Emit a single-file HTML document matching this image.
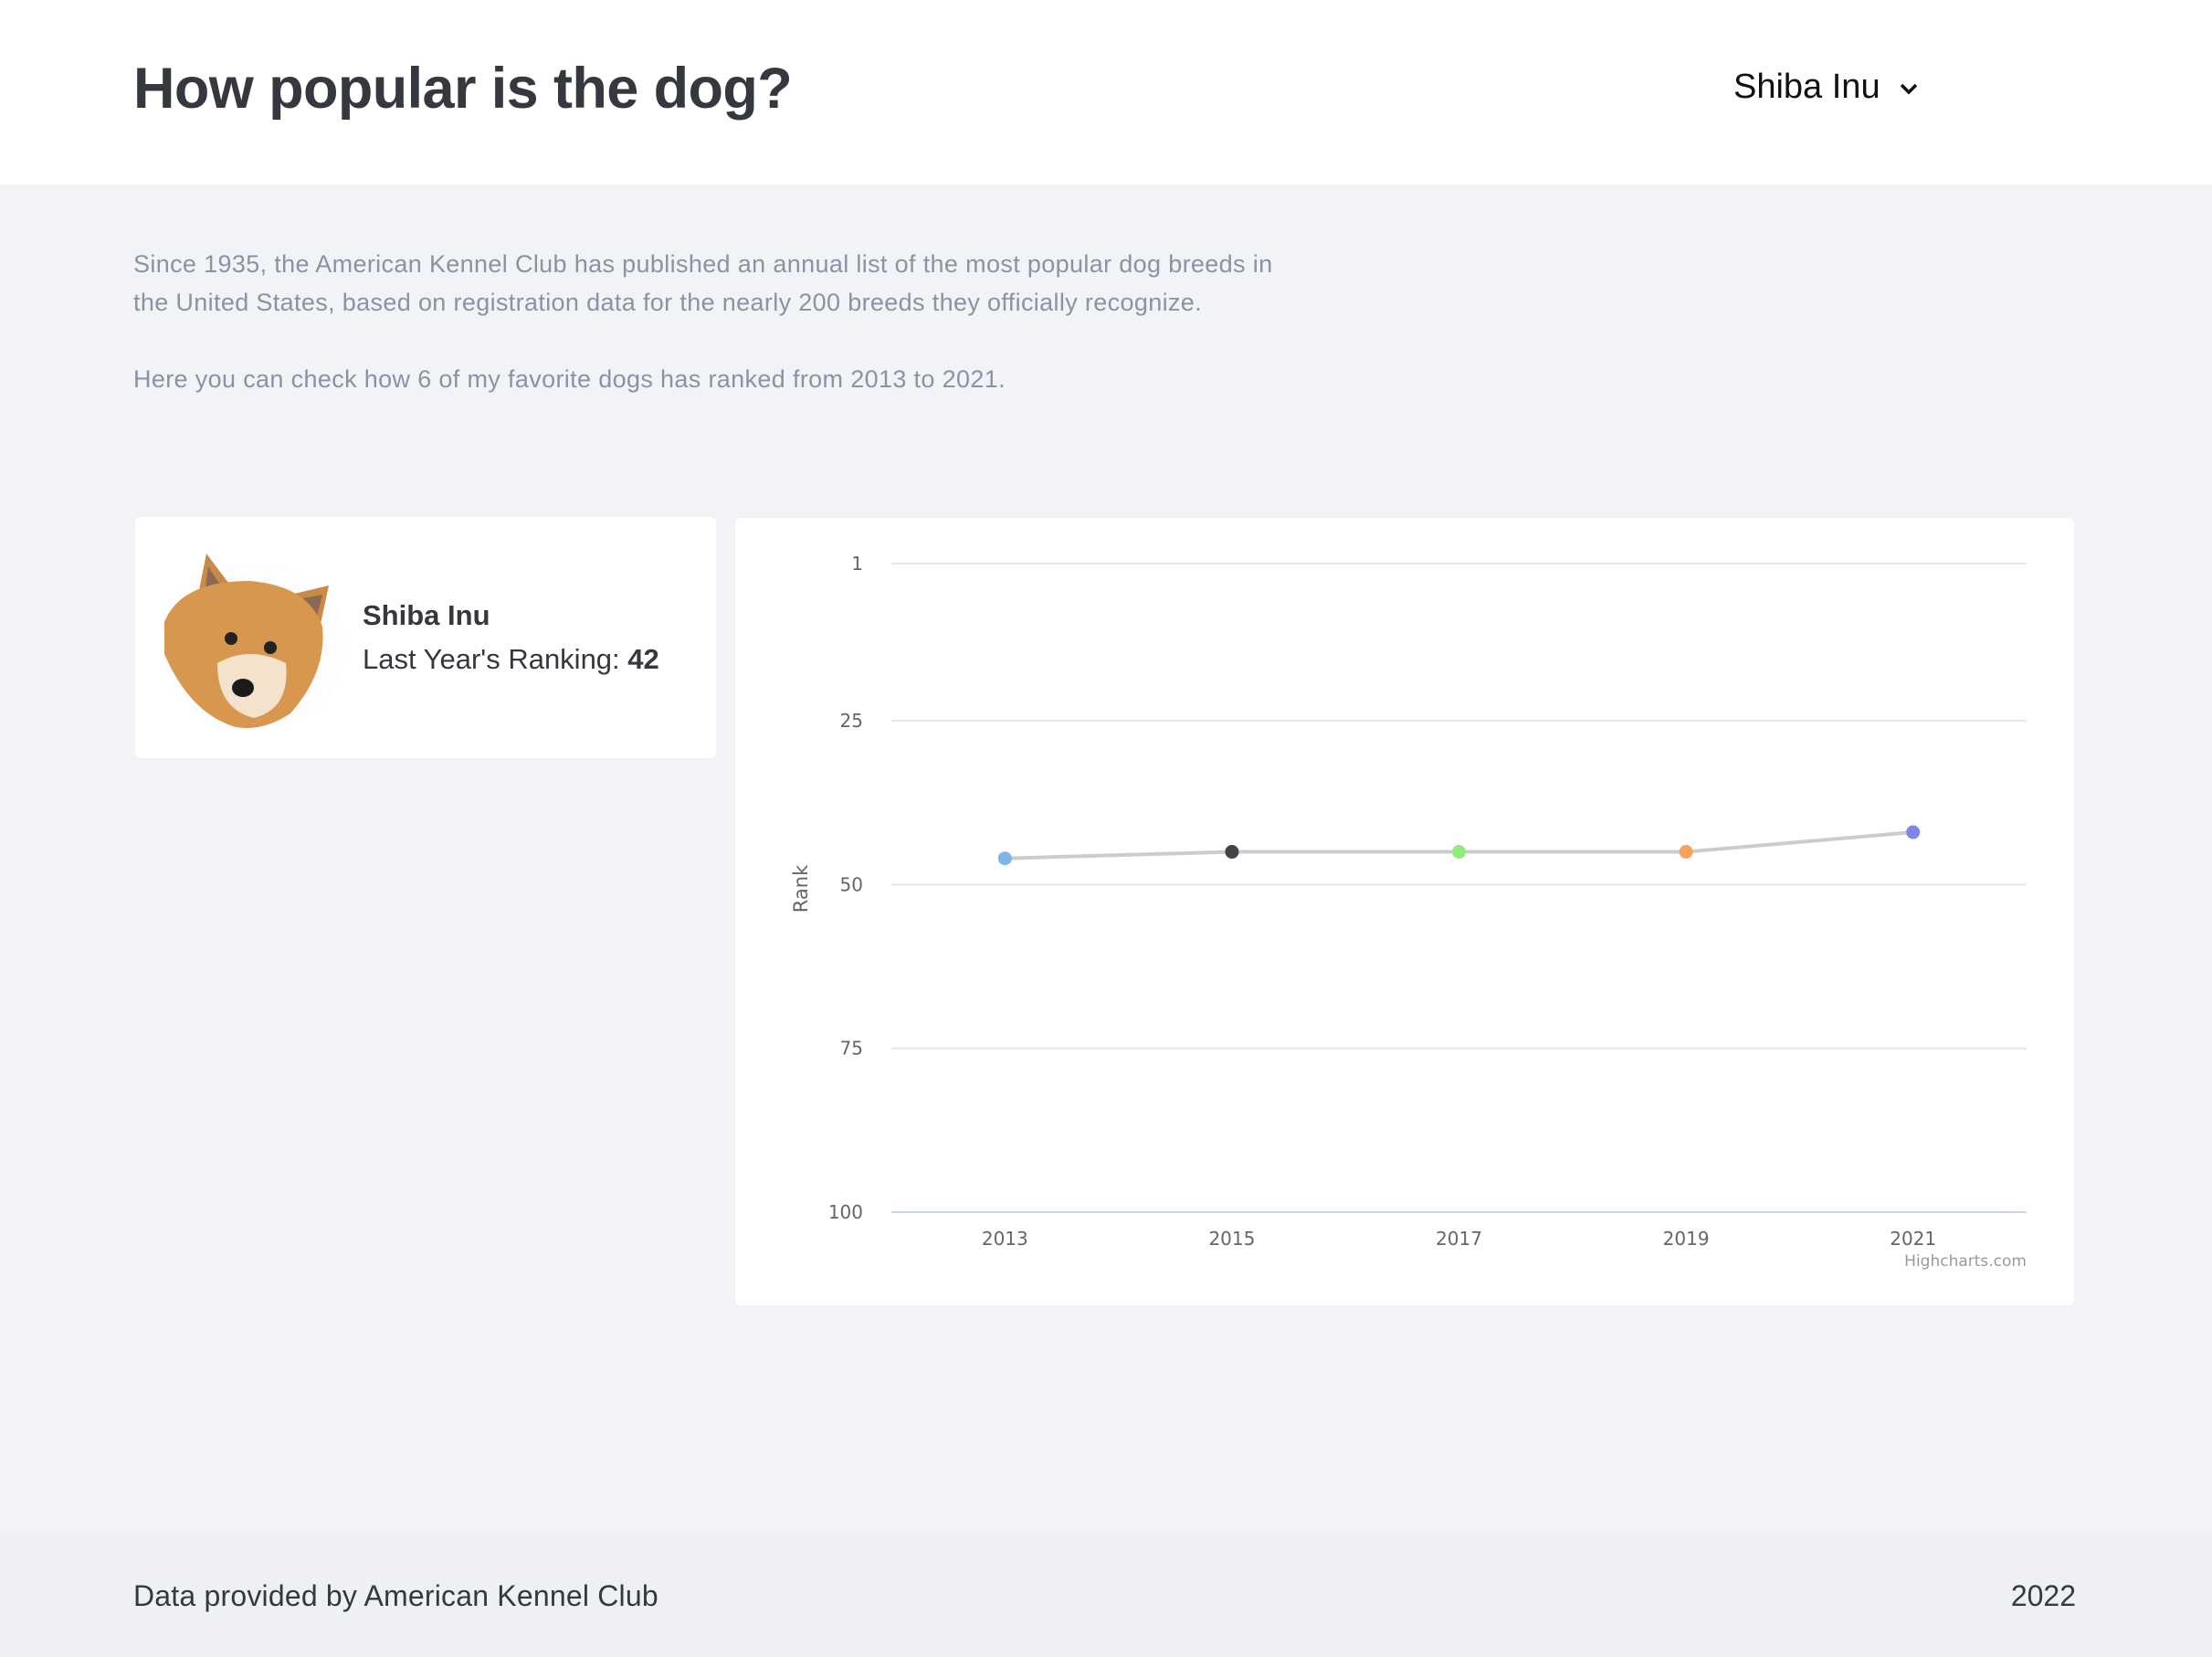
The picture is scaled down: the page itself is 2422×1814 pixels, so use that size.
<!DOCTYPE html>
<html><head><meta charset="utf-8"><style>
*{margin:0;padding:0;box-sizing:border-box}
body{width:2422px;height:1814px;background:#f2f3f6;font-family:"Liberation Sans",Arial,sans-serif;position:relative;overflow:hidden}
.abs{position:absolute}
</style></head><body>
<div class="abs" style="left:0;top:0;width:2422px;height:202px;background:#fff">
  <div class="abs" style="left:146px;top:61px;font-size:63px;font-weight:bold;color:#363840;white-space:nowrap;letter-spacing:-0.6px">How popular is the dog?</div>
  <div class="abs" style="left:1898px;top:74px;font-size:38px;color:#111;white-space:nowrap">Shiba Inu
    <svg width="22" height="16" style="margin-left:10px;vertical-align:middle"><path d="M3 4 L11 12 L19 4" stroke="#111" stroke-width="3.5" fill="none"/></svg></div>
</div>
<div class="abs" style="left:146px;top:268px;font-size:27px;line-height:42px;color:#8a93a3;white-space:nowrap;letter-spacing:0.35px">
Since 1935, the American Kennel Club has published an annual list of the most popular dog breeds in<br>the United States, based on registration data for the nearly 200 breeds they officially recognize.<br><br>Here you can check how 6 of my favorite dogs has ranked from 2013 to 2021.</div>

<div class="abs" style="left:148px;top:566px;width:636px;height:264px;background:#fff;border-radius:6px">
  <svg class="abs" style="left:30px;top:40px" width="210" height="195" viewBox="0 0 210 195">
    <ellipse cx="100" cy="102" rx="100" ry="92" fill="#fdfdfd"/>
    <path d="M35 65 L48 0 L78 40 Z" fill="#c98a45"/><path d="M45 55 L50 14 L68 42 Z" fill="#8a6a55"/>
    <path d="M140 45 L182 35 L168 100 Z" fill="#c98a45"/><path d="M148 50 L175 45 L165 85 Z" fill="#8a6a55"/>
    <path d="M2 75 Q20 30 95 30 Q160 35 175 80 Q180 130 140 175 Q110 195 80 190 Q30 175 2 110 Z" fill="#d8974f"/>
    <path d="M60 120 Q95 100 135 120 Q140 170 100 180 Q60 170 60 120Z" fill="#f3e3cc"/>
    <circle cx="75" cy="93" r="7" fill="#222"/><circle cx="118" cy="103" r="7" fill="#222"/>
    <ellipse cx="88" cy="147" rx="12" ry="10" fill="#1a1a1a"/>
  </svg>
  <div class="abs" style="left:249px;top:90px;font-size:31px;font-weight:bold;color:#363840;white-space:nowrap">Shiba Inu</div>
  <div class="abs" style="left:249px;top:138px;font-size:31px;color:#363840;white-space:nowrap">Last Year's Ranking: <b>42</b></div>
</div>

<div class="abs" style="left:805px;top:567px;width:1466px;height:862px;background:#fff;border-radius:6px"></div>
<svg id="chart" class="abs" style="left:0;top:0" width="2422" height="1814"></svg>

<div class="abs" style="left:0;top:1679px;width:2422px;height:135px;background:#eef0f4">
  <div class="abs" style="left:146px;top:50px;font-size:32px;color:#363840;white-space:nowrap;letter-spacing:0.2px">Data provided by American Kennel Club</div>
  <div class="abs" style="right:149px;top:50px;font-size:32px;color:#363840">2022</div>
</div>
<script>
const categories=['2013','2015','2017','2019','2021'];
const ranks=[46,45,45,45,42];
const yTicks=[1,25,50,75,100];
const colors=['#7cb5ec','#434348','#90ed7d','#f7a35c','#8085e9'];
const svg=document.getElementById('chart');
const NS='http://www.w3.org/2000/svg';
const X0=976,X1=2219,Y0=617,Y1=1327;
const y=v=>Y0+(v-1)/(100-1)*(Y1-Y0);
const bw=(X1-X0)/categories.length;
const x=i=>X0+bw*(i+0.5);
function mk(t,a){const e=document.createElementNS(NS,t);for(const k in a)e.setAttribute(k,a[k]);svg.appendChild(e);return e;}
yTicks.forEach(v=>{
  const l=mk('line',{x1:X0,x2:X1,y1:y(v),y2:y(v),stroke:v===100?'#ccd6eb':'#e6e6e6','stroke-width':2});
  
  
  const t=mk('text',{x:945,y:y(v)+7,'text-anchor':'end','font-size':20,fill:'#666','font-family':'DejaVu Sans, sans-serif'});
  t.textContent=v;
  
  
});
categories.forEach((c,i)=>{
  const t=mk('text',{x:x(i),y:1363,'text-anchor':'middle','font-size':20,fill:'#666','font-family':'DejaVu Sans, sans-serif'});
  t.textContent=c;
  
  
});
const yt=mk('text',{x:0,y:0,transform:'translate(884,973) rotate(-90)','text-anchor':'middle','font-size':21,fill:'#666','font-family':'DejaVu Sans, sans-serif'});
yt.textContent='Rank';


const p=mk('polyline',{points:ranks.map((r,i)=>x(i)+','+y(r)).join(' '),fill:'none',stroke:'#cccccc','stroke-width':4});


ranks.forEach((r,i)=>{
  const c=mk('circle',{cx:x(i),cy:y(r),r:7.5,fill:colors[i]});
  
  
});
const cr=mk('text',{x:X1,y:1386,'text-anchor':'end','font-size':17,fill:'#999','font-family':'DejaVu Sans, sans-serif'});
cr.textContent='Highcharts.com';


</script>
</body></html>
